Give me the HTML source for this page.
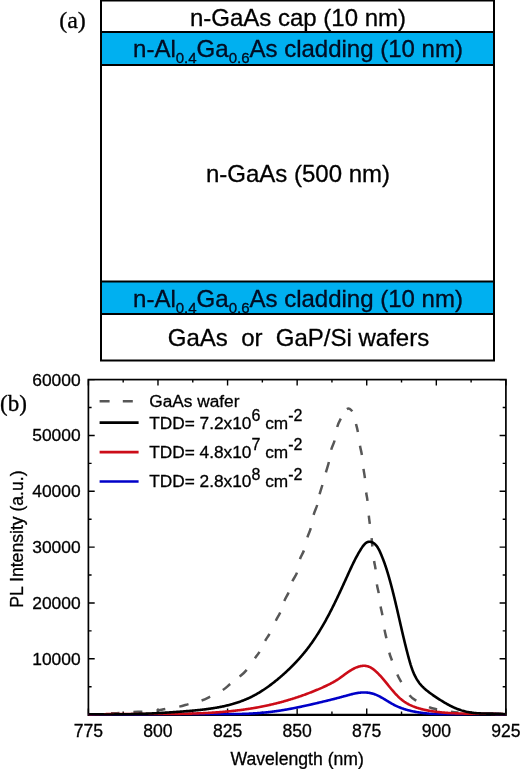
<!DOCTYPE html>
<html><head><meta charset="utf-8"><title>GaAs layer structure and PL spectra</title>
<style>html,body{margin:0;padding:0;background:#fff;}text{stroke:currentColor;stroke-width:0.3px;}body{width:520px;height:769px;overflow:hidden;}svg{display:block;}</style>
</head><body>
<svg width="520" height="769" viewBox="0 0 520 769">
<g id="stack">
<rect x="101" y="0" width="393" height="360" fill="#fff"/>
<rect x="101" y="32" width="393" height="33" fill="#00b0f0"/>
<rect x="101" y="281.6" width="393" height="32.5" fill="#00b0f0"/>
<g stroke="#000" stroke-width="2" fill="none">
<line x1="100" y1="32" x2="495" y2="32"/>
<line x1="100" y1="65" x2="495" y2="65"/>
<line x1="100" y1="281.6" x2="495" y2="281.6"/>
<line x1="100" y1="314.1" x2="495" y2="314.1"/>
<rect x="101" y="0.5" width="393" height="360"/>
</g>
<g font-family="Liberation Sans, Arial, Helvetica, sans-serif" font-size="24" fill="#000" text-anchor="middle">
<text x="298" y="25.8">n-GaAs cap (10 nm)</text>
<text x="298" y="57" fill="#020c28">n-Al<tspan font-size="15" dy="6.3">0.4</tspan><tspan dy="-6.3">Ga</tspan><tspan font-size="15" dy="6.3">0.6</tspan><tspan dy="-6.3">As cladding (10 nm)</tspan></text>
<text x="298" y="182">n-GaAs (500 nm)</text>
<text x="298" y="306.5" fill="#020c28">n-Al<tspan font-size="15" dy="6.3">0.4</tspan><tspan dy="-6.3">Ga</tspan><tspan font-size="15" dy="6.3">0.6</tspan><tspan dy="-6.3">As cladding (10 nm)</tspan></text>
<text x="298.5" y="345.6" xml:space="preserve">GaAs  or  GaP/Si wafers</text>
</g>
</g>
<text x="59.2" y="27.9" font-family="Liberation Serif, Times New Roman, serif" font-size="24">(a)</text>
<text x="0" y="410.6" font-family="Liberation Serif, Times New Roman, serif" font-size="23">(b)</text>
<path d="M88.40,714.60v-6.0M88.40,379.60v6.0M123.19,714.60v-3.0M123.19,379.60v3.0M157.98,714.60v-6.0M157.98,379.60v6.0M192.78,714.60v-3.0M192.78,379.60v3.0M227.57,714.60v-6.0M227.57,379.60v6.0M262.36,714.60v-3.0M262.36,379.60v3.0M297.15,714.60v-6.0M297.15,379.60v6.0M331.94,714.60v-3.0M331.94,379.60v3.0M366.73,714.60v-6.0M366.73,379.60v6.0M401.52,714.60v-3.0M401.52,379.60v3.0M436.32,714.60v-6.0M436.32,379.60v6.0M471.11,714.60v-3.0M471.11,379.60v3.0M505.90,714.60v-6.0M505.90,379.60v6.0M88.40,714.60h6.3M505.90,714.60h-6.3M88.40,686.68h3.2M505.90,686.68h-3.2M88.40,658.77h6.3M505.90,658.77h-6.3M88.40,630.85h3.2M505.90,630.85h-3.2M88.40,602.93h6.3M505.90,602.93h-6.3M88.40,575.02h3.2M505.90,575.02h-3.2M88.40,547.10h6.3M505.90,547.10h-6.3M88.40,519.18h3.2M505.90,519.18h-3.2M88.40,491.27h6.3M505.90,491.27h-6.3M88.40,463.35h3.2M505.90,463.35h-3.2M88.40,435.43h6.3M505.90,435.43h-6.3M88.40,407.52h3.2M505.90,407.52h-3.2M88.40,379.60h6.3M505.90,379.60h-6.3" stroke="#000" stroke-width="1.4" fill="none"/>
<rect x="88.4" y="379.6" width="417.5" height="335.0" fill="none" stroke="#000" stroke-width="1.7"/>
<path d="M87.6,715.3H506.7" stroke="#000" stroke-width="1.2"/>
<defs><clipPath id="c"><rect x="88.4" y="379.6" width="417.5" height="336.0"/></clipPath></defs>
<g fill="none" stroke-linejoin="round" clip-path="url(#c)">
<path d="M111.00,713.30C112.42,713.27 115.77,713.32 119.50,713.10M133.40,712.00C137.22,711.77 138.55,711.93 142.40,711.70M156.50,710.60C160.32,710.13 161.50,709.57 165.30,708.90M179.30,706.60C183.17,705.80 184.78,705.12 188.50,704.10M201.60,700.50C205.20,699.27 206.57,698.45 210.10,696.70M222.80,690.00C226.15,687.88 227.38,686.23 230.20,684.00M239.70,676.60C242.45,674.25 244.17,672.97 246.70,669.90M254.90,658.20C257.03,655.18 257.80,654.70 259.50,651.80M265.10,640.80C266.77,637.80 267.72,637.15 269.50,633.80M275.80,620.70C277.58,617.15 278.78,615.80 280.20,612.50M284.30,600.90C285.70,597.55 287.25,595.68 288.60,592.40M292.40,581.20C293.80,577.92 295.73,576.37 297.00,572.70M300.00,559.20C301.15,555.50 302.67,554.15 303.90,550.50M307.40,537.30C308.55,533.57 309.77,531.83 310.80,528.10M313.60,514.90C314.67,511.05 316.20,508.43 317.20,505.00M319.60,494.30C320.47,490.97 321.35,488.65 322.40,485.00M325.90,472.40C326.98,468.57 328.02,465.78 328.90,462.00M331.20,449.70C332.15,446.12 333.60,444.28 334.60,440.50M337.20,427.00C338.23,423.35 339.18,421.58 340.80,418.60M346.90,409.10C348.80,407.90 350.68,408.92 352.20,411.40M356.00,424.00C356.95,427.42 357.23,428.27 357.90,431.90M360.00,445.80C360.67,449.65 361.32,451.15 361.90,455.00M363.50,468.90C364.00,472.75 364.45,474.17 364.90,478.10M366.20,492.50C366.63,496.28 367.07,496.95 367.50,500.80M368.80,515.60C369.18,519.43 369.33,520.05 369.80,523.80M371.60,538.10C372.03,541.88 371.98,542.68 372.40,546.50M374.10,561.00C374.63,564.82 375.13,565.50 375.60,569.40M376.90,584.40C377.42,588.35 378.08,589.42 378.70,593.10M380.60,606.50C381.22,610.18 381.75,611.35 382.40,615.20M384.50,629.60C385.17,633.45 385.60,634.47 386.40,638.30M389.30,652.60C390.23,656.30 390.67,656.83 392.00,660.50M397.30,674.60C398.85,678.20 399.27,678.67 401.30,682.10M409.50,695.20C412.00,698.28 413.05,698.62 416.30,700.60M429.00,707.10C432.47,708.57 433.43,708.63 437.10,709.40M451.00,711.70C454.57,712.22 454.83,712.22 458.50,712.50M473.00,713.40C476.75,713.60 477.33,713.60 481.00,713.70M495.00,714.00C498.67,714.07 501.67,714.08 503.00,714.10" stroke="#575757" stroke-width="2.5"/>
<path d="M88.29,714.55 L88.90,714.56 L89.51,714.57 L90.12,714.58 L90.73,714.59 L91.33,714.60 L91.94,714.61 L92.55,714.62 L93.16,714.63 L93.76,714.64 L94.37,714.65 L94.98,714.65 L95.59,714.66 L96.20,714.67 L96.80,714.68 L97.41,714.68 L98.02,714.69 L98.63,714.69 L99.23,714.70 L99.84,714.71 L100.45,714.71 L101.06,714.72 L101.66,714.72 L102.27,714.73 L102.88,714.73 L103.48,714.73 L104.09,714.74 L104.70,714.74 L105.31,714.74 L105.91,714.75 L106.52,714.75 L107.13,714.75 L107.74,714.75 L108.34,714.76 L108.95,714.76 L109.56,714.76 L110.16,714.76 L110.77,714.76 L111.38,714.76 L111.98,714.76 L112.59,714.76 L113.20,714.76 L113.80,714.76 L114.41,714.76 L115.02,714.76 L115.63,714.76 L116.23,714.76 L116.84,714.76 L117.45,714.76 L118.05,714.76 L118.66,714.75 L119.27,714.75 L119.87,714.75 L120.48,714.75 L121.09,714.75 L121.69,714.74 L122.30,714.74 L122.91,714.74 L123.51,714.73 L124.12,714.73 L124.73,714.73 L125.33,714.72 L125.94,714.72 L126.54,714.72 L127.15,714.71 L127.76,714.71 L128.36,714.70 L128.97,714.70 L129.58,714.70 L130.18,714.69 L130.79,714.69 L131.40,714.68 L132.00,714.68 L132.61,714.67 L133.22,714.67 L133.82,714.66 L134.43,714.65 L135.03,714.65 L135.64,714.64 L136.25,714.64 L136.85,714.63 L137.46,714.63 L138.07,714.62 L138.67,714.61 L139.28,714.61 L139.89,714.60 L140.49,714.59 L141.10,714.59 L141.70,714.58 L142.31,714.57 L142.92,714.57 L143.52,714.56 L144.13,714.55 L144.74,714.55 L145.34,714.54 L145.95,714.53 L146.55,714.53 L147.16,714.52 L147.77,714.51 L148.37,714.51 L148.98,714.50 L149.59,714.49 L150.19,714.48 L150.80,714.48 L151.40,714.47 L152.01,714.46 L152.62,714.46 L153.22,714.45 L153.83,714.44 L154.44,714.43 L155.04,714.43 L155.65,714.42 L156.26,714.41 L156.86,714.40 L157.47,714.40 L158.07,714.39 L158.68,714.38 L159.29,714.38 L159.89,714.37 L160.50,714.36 L161.11,714.35 L161.71,714.35 L162.32,714.34 L162.92,714.33 L163.53,714.33 L164.14,714.32 L164.74,714.31 L165.35,714.30 L165.96,714.30 L166.56,714.29 L167.17,714.28 L167.78,714.28 L168.38,714.27 L168.99,714.26 L169.60,714.26 L170.20,714.25 L170.81,714.25 L171.41,714.24 L172.02,714.23 L172.63,714.23 L173.23,714.22 L173.84,714.22 L174.45,714.21 L175.05,714.20 L175.66,714.20 L176.27,714.19 L176.87,714.19 L177.48,714.18 L178.09,714.18 L178.69,714.17 L179.30,714.17 L179.91,714.16 L180.51,714.16 L181.12,714.15 L181.73,714.15 L182.33,714.15 L182.94,714.14 L183.55,714.14 L184.16,714.14 L184.76,714.13 L185.37,714.13 L185.98,714.12 L186.58,714.12 L187.19,714.12 L187.80,714.12 L188.40,714.11 L189.01,714.11 L189.62,714.11 L190.23,714.11 L190.83,714.10 L191.44,714.10 L192.05,714.10 L192.65,714.10 L193.26,714.10 L193.87,714.10 L194.48,714.10 L195.08,714.10 L195.69,714.10 L196.30,714.10 L196.90,714.10 L197.51,714.10 L198.12,714.10 L198.73,714.10 L199.33,714.10 L199.94,714.10 L200.55,714.10 L201.16,714.10 L201.76,714.11 L202.37,714.11 L202.98,714.11 L203.59,714.11 L204.20,714.12 L204.80,714.12 L205.41,714.12 L206.02,714.12 L206.63,714.13 L207.23,714.13 L207.84,714.13 L208.45,714.14 L209.06,714.14 L209.67,714.14 L210.27,714.15 L210.88,714.15 L211.49,714.15 L212.10,714.15 L212.70,714.16 L213.31,714.16 L213.92,714.16 L214.53,714.17 L215.14,714.17 L215.74,714.17 L216.35,714.17 L216.96,714.18 L217.57,714.18 L218.18,714.18 L218.78,714.18 L219.39,714.18 L220.00,714.18 L220.61,714.18 L221.21,714.18 L221.82,714.18 L222.43,714.18 L223.04,714.18 L223.65,714.18 L224.25,714.18 L224.86,714.18 L225.47,714.18 L226.08,714.18 L226.68,714.17 L227.29,714.17 L227.90,714.17 L228.51,714.16 L229.11,714.16 L229.72,714.15 L230.33,714.15 L230.94,714.14 L231.54,714.14 L232.15,714.13 L232.76,714.12 L233.36,714.11 L233.97,714.10 L234.58,714.10 L235.19,714.09 L235.79,714.07 L236.40,714.06 L237.01,714.05 L237.61,714.04 L238.22,714.03 L238.83,714.01 L239.43,714.00 L240.04,713.98 L240.65,713.97 L241.25,713.95 L241.86,713.93 L242.47,713.91 L243.07,713.89 L243.68,713.87 L244.28,713.85 L244.89,713.83 L245.50,713.81 L246.10,713.78 L246.71,713.76 L247.31,713.73 L247.92,713.71 L248.52,713.68 L249.13,713.65 L249.74,713.62 L250.34,713.59 L250.95,713.56 L251.55,713.53 L252.16,713.49 L252.76,713.46 L253.37,713.42 L253.97,713.39 L254.58,713.35 L255.18,713.31 L255.79,713.27 L256.39,713.23 L256.99,713.19 L257.60,713.14 L258.20,713.10 L258.81,713.05 L259.41,713.01 L260.02,712.96 L260.62,712.91 L261.22,712.86 L261.83,712.81 L262.43,712.75 L263.03,712.70 L263.64,712.64 L264.24,712.58 L264.84,712.53 L265.45,712.47 L266.05,712.40 L266.65,712.34 L267.25,712.28 L267.86,712.21 L268.46,712.14 L269.06,712.08 L269.66,712.01 L270.26,711.93 L270.87,711.86 L271.47,711.79 L272.07,711.71 L272.67,711.63 L273.27,711.56 L273.87,711.48 L274.47,711.40 L275.08,711.31 L275.68,711.23 L276.28,711.14 L276.88,711.06 L277.48,710.97 L278.08,710.88 L278.68,710.79 L279.28,710.70 L279.88,710.61 L280.48,710.51 L281.08,710.42 L281.68,710.32 L282.28,710.23 L282.87,710.13 L283.47,710.03 L284.07,709.93 L284.67,709.83 L285.27,709.73 L285.87,709.62 L286.47,709.52 L287.06,709.41 L287.66,709.31 L288.26,709.20 L288.86,709.09 L289.45,708.98 L290.05,708.87 L290.65,708.76 L291.25,708.65 L291.84,708.53 L292.44,708.42 L293.04,708.30 L293.63,708.19 L294.23,708.07 L294.82,707.95 L295.42,707.83 L296.02,707.72 L296.61,707.60 L297.21,707.47 L297.80,707.35 L298.40,707.23 L298.99,707.11 L299.59,706.98 L300.18,706.86 L300.77,706.73 L301.37,706.61 L301.96,706.48 L302.56,706.35 L303.15,706.23 L303.74,706.10 L304.34,705.97 L304.93,705.84 L305.52,705.71 L306.11,705.58 L306.71,705.45 L307.30,705.32 L307.89,705.18 L308.48,705.05 L309.07,704.92 L309.67,704.78 L310.26,704.65 L310.85,704.52 L311.44,704.38 L312.03,704.24 L312.62,704.11 L313.21,703.97 L313.80,703.84 L314.39,703.70 L314.98,703.56 L315.57,703.42 L316.16,703.29 L316.75,703.15 L317.34,703.01 L317.93,702.87 L318.52,702.73 L319.10,702.59 L319.69,702.45 L320.28,702.31 L320.87,702.17 L321.46,702.03 L322.04,701.89 L322.63,701.75 L323.22,701.61 L323.80,701.47 L324.39,701.33 L324.98,701.19 L325.56,701.05 L326.15,700.90 L326.74,700.76 L327.32,700.62 L327.91,700.48 L328.49,700.33 L329.08,700.19 L329.67,700.04 L330.25,699.90 L330.84,699.75 L331.42,699.61 L332.01,699.46 L332.59,699.31 L333.18,699.17 L333.77,699.02 L334.35,698.87 L334.94,698.72 L335.53,698.57 L336.11,698.41 L336.70,698.26 L337.29,698.11 L337.87,697.95 L338.46,697.80 L339.05,697.64 L339.64,697.49 L340.22,697.33 L340.81,697.17 L341.40,697.01 L341.99,696.85 L342.58,696.69 L343.17,696.53 L343.76,696.37 L344.36,696.20 L344.95,696.04 L345.54,695.88 L346.13,695.71 L346.73,695.55 L347.32,695.39 L347.92,695.22 L348.51,695.06 L349.11,694.90 L349.71,694.74 L350.31,694.58 L350.90,694.43 L351.50,694.28 L352.10,694.13 L352.70,693.98 L353.30,693.84 L353.90,693.71 L354.50,693.57 L355.10,693.45 L355.70,693.33 L356.30,693.21 L356.90,693.10 L357.50,693.00 L358.10,692.91 L358.69,692.82 L359.29,692.74 L359.89,692.67 L360.49,692.61 L361.09,692.55 L361.69,692.51 L362.29,692.47 L362.88,692.45 L363.48,692.44 L364.07,692.43 L364.67,692.44 L365.26,692.46 L365.86,692.49 L366.45,692.53 L367.04,692.58 L367.63,692.64 L368.22,692.71 L368.80,692.79 L369.39,692.89 L369.97,692.99 L370.55,693.11 L371.13,693.23 L371.70,693.37 L372.28,693.52 L372.85,693.68 L373.42,693.85 L373.98,694.04 L374.54,694.23 L375.10,694.43 L375.66,694.65 L376.22,694.88 L376.77,695.11 L377.32,695.36 L377.86,695.61 L378.41,695.87 L378.95,696.14 L379.49,696.41 L380.03,696.70 L380.57,696.99 L381.11,697.28 L381.64,697.58 L382.18,697.88 L382.71,698.19 L383.24,698.50 L383.77,698.82 L384.30,699.13 L384.83,699.45 L385.36,699.78 L385.89,700.10 L386.42,700.42 L386.94,700.74 L387.47,701.07 L388.00,701.39 L388.53,701.71 L389.06,702.03 L389.59,702.34 L390.12,702.66 L390.65,702.97 L391.18,703.27 L391.71,703.58 L392.24,703.88 L392.78,704.17 L393.32,704.47 L393.86,704.75 L394.40,705.03 L394.94,705.31 L395.48,705.58 L396.03,705.84 L396.58,706.10 L397.13,706.35 L397.69,706.59 L398.24,706.83 L398.80,707.07 L399.36,707.30 L399.92,707.52 L400.48,707.74 L401.05,707.96 L401.61,708.17 L402.18,708.37 L402.75,708.57 L403.32,708.76 L403.89,708.95 L404.47,709.14 L405.04,709.32 L405.62,709.49 L406.20,709.67 L406.78,709.83 L407.36,710.00 L407.94,710.15 L408.52,710.31 L409.11,710.46 L409.69,710.61 L410.28,710.75 L410.87,710.89 L411.46,711.02 L412.05,711.15 L412.64,711.28 L413.23,711.40 L413.82,711.53 L414.41,711.64 L415.01,711.76 L415.60,711.87 L416.20,711.97 L416.80,712.08 L417.39,712.18 L417.99,712.28 L418.59,712.38 L419.19,712.47 L419.78,712.56 L420.38,712.65 L420.98,712.73 L421.58,712.81 L422.18,712.89 L422.78,712.97 L423.38,713.05 L423.98,713.12 L424.59,713.19 L425.19,713.26 L425.79,713.33 L426.39,713.39 L426.99,713.45 L427.59,713.52 L428.20,713.57 L428.80,713.63 L429.40,713.68 L430.01,713.74 L430.61,713.79 L431.21,713.83 L431.82,713.88 L432.42,713.92 L433.03,713.97 L433.63,714.01 L434.24,714.05 L434.84,714.08 L435.45,714.12 L436.05,714.15 L436.66,714.19 L437.26,714.22 L437.87,714.24 L438.48,714.27 L439.08,714.30 L439.69,714.32 L440.29,714.34 L440.90,714.37 L441.51,714.39 L442.12,714.40 L442.72,714.42 L443.33,714.44 L443.94,714.45 L444.55,714.46 L445.15,714.48 L445.76,714.49 L446.37,714.50 L446.98,714.50 L447.59,714.51 L448.19,714.52 L448.80,714.52 L449.41,714.53 L450.02,714.53 L450.63,714.53 L451.24,714.53 L451.85,714.53 L452.46,714.53 L453.06,714.53 L453.67,714.53 L454.28,714.53 L454.89,714.52 L455.50,714.52 L456.11,714.51 L456.72,714.51 L457.33,714.50 L457.94,714.49 L458.55,714.48 L459.16,714.48 L459.77,714.47 L460.38,714.46 L460.99,714.45 L461.60,714.44 L462.21,714.43 L462.82,714.41 L463.43,714.40 L464.04,714.39 L464.65,714.38 L465.26,714.37 L465.87,714.35 L466.48,714.34 L467.09,714.33 L467.70,714.31 L468.30,714.30 L468.91,714.29 L469.52,714.28 L470.13,714.26 L470.74,714.25 L471.35,714.23 L471.96,714.22 L472.57,714.21 L473.18,714.20 L473.79,714.18 L474.40,714.17 L475.01,714.16 L475.62,714.15 L476.23,714.13 L476.84,714.12 L477.44,714.11 L478.05,714.10 L478.66,714.09 L479.27,714.08 L479.88,714.07 L480.49,714.06 L481.10,714.05 L481.70,714.04 L482.31,714.04 L482.92,714.03 L483.53,714.02 L484.14,714.02 L484.74,714.01 L485.35,714.01 L485.96,714.01 L486.57,714.00 L487.17,714.00 L487.78,714.00 L488.39,714.00 L488.99,714.00 L489.60,714.00 L490.20,714.01 L490.81,714.01 L491.42,714.02 L492.02,714.02 L492.63,714.03 L493.23,714.04 L493.84,714.05 L494.44,714.06 L495.05,714.07 L495.65,714.08 L496.26,714.10 L496.86,714.11 L497.46,714.13 L498.07,714.15 L498.67,714.17 L499.27,714.19 L499.88,714.21 L500.48,714.23 L501.08,714.26 L501.69,714.29 L502.29,714.32 L502.89,714.35 L503.49,714.38 L504.09,714.41 L504.69,714.45 L505.29,714.48 L505.89,714.52" stroke="#0000c8" stroke-width="2.6"/>
<path d="M88.34,714.70 L88.97,714.68 L89.60,714.65 L90.23,714.62 L90.86,714.60 L91.49,714.58 L92.13,714.55 L92.76,714.53 L93.39,714.51 L94.02,714.49 L94.65,714.46 L95.28,714.44 L95.91,714.42 L96.54,714.40 L97.18,714.38 L97.81,714.37 L98.44,714.35 L99.07,714.33 L99.70,714.31 L100.34,714.30 L100.97,714.28 L101.60,714.27 L102.23,714.25 L102.87,714.24 L103.50,714.22 L104.13,714.21 L104.76,714.20 L105.40,714.18 L106.03,714.17 L106.66,714.16 L107.30,714.15 L107.93,714.14 L108.56,714.13 L109.20,714.12 L109.83,714.11 L110.46,714.10 L111.10,714.09 L111.73,714.08 L112.36,714.07 L113.00,714.07 L113.63,714.06 L114.27,714.05 L114.90,714.05 L115.54,714.04 L116.17,714.03 L116.80,714.03 L117.44,714.02 L118.07,714.02 L118.71,714.01 L119.34,714.01 L119.98,714.00 L120.61,714.00 L121.25,714.00 L121.88,713.99 L122.52,713.99 L123.15,713.99 L123.79,713.98 L124.42,713.98 L125.06,713.98 L125.69,713.98 L126.33,713.98 L126.96,713.97 L127.60,713.97 L128.24,713.97 L128.87,713.97 L129.51,713.97 L130.14,713.97 L130.78,713.97 L131.41,713.97 L132.05,713.97 L132.69,713.97 L133.32,713.97 L133.96,713.97 L134.59,713.97 L135.23,713.97 L135.87,713.97 L136.50,713.97 L137.14,713.97 L137.77,713.97 L138.41,713.97 L139.05,713.97 L139.68,713.98 L140.32,713.98 L140.96,713.98 L141.59,713.98 L142.23,713.98 L142.87,713.98 L143.50,713.98 L144.14,713.98 L144.78,713.98 L145.41,713.99 L146.05,713.99 L146.69,713.99 L147.32,713.99 L147.96,713.99 L148.60,713.99 L149.23,713.99 L149.87,713.99 L150.51,714.00 L151.14,714.00 L151.78,714.00 L152.42,714.00 L153.05,714.00 L153.69,714.00 L154.33,714.00 L154.96,714.00 L155.60,714.00 L156.24,714.00 L156.87,714.00 L157.51,714.00 L158.15,714.00 L158.79,714.00 L159.42,714.00 L160.06,714.00 L160.70,714.00 L161.33,714.00 L161.97,713.99 L162.61,713.99 L163.24,713.99 L163.88,713.99 L164.52,713.99 L165.15,713.98 L165.79,713.98 L166.43,713.98 L167.06,713.98 L167.70,713.97 L168.34,713.97 L168.98,713.96 L169.61,713.96 L170.25,713.96 L170.89,713.95 L171.52,713.95 L172.16,713.94 L172.80,713.94 L173.43,713.93 L174.07,713.92 L174.71,713.92 L175.34,713.91 L175.98,713.90 L176.61,713.89 L177.25,713.89 L177.89,713.88 L178.52,713.87 L179.16,713.86 L179.80,713.85 L180.43,713.84 L181.07,713.83 L181.71,713.82 L182.34,713.81 L182.98,713.80 L183.61,713.78 L184.25,713.77 L184.89,713.76 L185.52,713.75 L186.16,713.73 L186.79,713.72 L187.43,713.70 L188.07,713.69 L188.70,713.67 L189.34,713.65 L189.97,713.64 L190.61,713.62 L191.24,713.60 L191.88,713.58 L192.52,713.57 L193.15,713.55 L193.79,713.53 L194.42,713.51 L195.06,713.48 L195.69,713.46 L196.33,713.44 L196.96,713.42 L197.60,713.39 L198.23,713.37 L198.87,713.35 L199.50,713.32 L200.14,713.29 L200.77,713.27 L201.40,713.24 L202.04,713.21 L202.67,713.18 L203.31,713.15 L203.94,713.13 L204.58,713.09 L205.21,713.06 L205.84,713.03 L206.48,713.00 L207.11,712.97 L207.75,712.93 L208.38,712.90 L209.01,712.86 L209.65,712.83 L210.28,712.79 L210.91,712.75 L211.55,712.71 L212.18,712.67 L212.81,712.63 L213.45,712.59 L214.08,712.55 L214.71,712.51 L215.34,712.47 L215.98,712.42 L216.61,712.38 L217.24,712.33 L217.87,712.29 L218.51,712.24 L219.14,712.19 L219.77,712.14 L220.40,712.09 L221.03,712.04 L221.67,711.99 L222.30,711.94 L222.93,711.89 L223.56,711.83 L224.19,711.78 L224.82,711.72 L225.45,711.67 L226.08,711.61 L226.72,711.55 L227.35,711.49 L227.98,711.43 L228.61,711.37 L229.24,711.31 L229.87,711.24 L230.50,711.18 L231.13,711.11 L231.76,711.05 L232.39,710.98 L233.02,710.91 L233.65,710.84 L234.28,710.77 L234.90,710.70 L235.53,710.63 L236.16,710.56 L236.79,710.48 L237.42,710.41 L238.05,710.33 L238.68,710.26 L239.30,710.18 L239.93,710.10 L240.56,710.02 L241.19,709.94 L241.82,709.85 L242.44,709.77 L243.07,709.68 L243.70,709.60 L244.33,709.51 L244.95,709.42 L245.58,709.33 L246.21,709.24 L246.83,709.15 L247.46,709.06 L248.09,708.96 L248.71,708.87 L249.34,708.77 L249.96,708.67 L250.59,708.57 L251.21,708.47 L251.84,708.37 L252.46,708.27 L253.09,708.17 L253.71,708.06 L254.34,707.96 L254.96,707.85 L255.59,707.74 L256.21,707.63 L256.84,707.52 L257.46,707.41 L258.08,707.29 L258.71,707.18 L259.33,707.06 L259.95,706.94 L260.58,706.83 L261.20,706.71 L261.82,706.58 L262.44,706.46 L263.07,706.34 L263.69,706.21 L264.31,706.08 L264.93,705.96 L265.55,705.83 L266.17,705.69 L266.80,705.56 L267.42,705.43 L268.04,705.29 L268.66,705.16 L269.28,705.02 L269.90,704.88 L270.52,704.74 L271.14,704.60 L271.76,704.45 L272.38,704.31 L273.00,704.16 L273.61,704.01 L274.23,703.86 L274.85,703.71 L275.47,703.56 L276.09,703.41 L276.71,703.25 L277.32,703.10 L277.94,702.94 L278.56,702.78 L279.17,702.62 L279.79,702.46 L280.40,702.30 L281.02,702.13 L281.63,701.97 L282.25,701.80 L282.86,701.63 L283.48,701.46 L284.09,701.29 L284.70,701.12 L285.32,700.94 L285.93,700.77 L286.54,700.59 L287.15,700.41 L287.77,700.23 L288.38,700.05 L288.99,699.87 L289.60,699.69 L290.21,699.50 L290.82,699.32 L291.42,699.13 L292.03,698.94 L292.64,698.75 L293.25,698.56 L293.85,698.37 L294.46,698.17 L295.07,697.98 L295.67,697.78 L296.28,697.58 L296.88,697.38 L297.49,697.18 L298.09,696.98 L298.69,696.77 L299.29,696.57 L299.90,696.36 L300.50,696.16 L301.10,695.95 L301.70,695.74 L302.30,695.53 L302.90,695.31 L303.49,695.10 L304.09,694.88 L304.69,694.67 L305.29,694.45 L305.88,694.23 L306.48,694.01 L307.07,693.79 L307.67,693.57 L308.26,693.34 L308.85,693.12 L309.44,692.89 L310.03,692.66 L310.63,692.43 L311.22,692.20 L311.80,691.97 L312.39,691.73 L312.98,691.50 L313.57,691.26 L314.16,691.03 L314.74,690.79 L315.33,690.55 L315.91,690.31 L316.49,690.07 L317.08,689.82 L317.66,689.58 L318.24,689.33 L318.82,689.08 L319.40,688.83 L319.98,688.58 L320.56,688.33 L321.13,688.08 L321.71,687.83 L322.29,687.57 L322.86,687.32 L323.44,687.06 L324.01,686.80 L324.58,686.54 L325.15,686.28 L325.72,686.01 L326.29,685.75 L326.86,685.48 L327.43,685.20 L327.99,684.93 L328.56,684.65 L329.12,684.37 L329.68,684.09 L330.24,683.80 L330.80,683.51 L331.36,683.22 L331.91,682.92 L332.47,682.62 L333.02,682.31 L333.57,682.00 L334.12,681.68 L334.67,681.36 L335.22,681.04 L335.76,680.71 L336.30,680.37 L336.85,680.03 L337.38,679.69 L337.92,679.33 L338.46,678.98 L338.99,678.61 L339.52,678.25 L340.05,677.87 L340.58,677.50 L341.11,677.12 L341.64,676.73 L342.16,676.35 L342.69,675.96 L343.22,675.58 L343.74,675.19 L344.27,674.80 L344.80,674.41 L345.33,674.03 L345.86,673.64 L346.39,673.26 L346.93,672.88 L347.46,672.51 L348.00,672.14 L348.54,671.77 L349.08,671.41 L349.63,671.05 L350.18,670.70 L350.73,670.36 L351.29,670.02 L351.85,669.69 L352.41,669.37 L352.98,669.06 L353.55,668.76 L354.12,668.46 L354.71,668.18 L355.29,667.91 L355.88,667.65 L356.48,667.41 L357.08,667.18 L357.67,666.96 L358.28,666.76 L358.88,666.57 L359.48,666.40 L360.09,666.25 L360.69,666.12 L361.30,666.01 L361.90,665.92 L362.50,665.85 L363.09,665.80 L363.69,665.77 L364.28,665.77 L364.86,665.80 L365.44,665.85 L366.02,665.92 L366.59,666.02 L367.15,666.15 L367.71,666.31 L368.26,666.49 L368.81,666.69 L369.35,666.92 L369.88,667.16 L370.41,667.43 L370.94,667.72 L371.45,668.02 L371.97,668.35 L372.47,668.69 L372.98,669.04 L373.47,669.41 L373.97,669.79 L374.46,670.18 L374.94,670.59 L375.42,671.00 L375.89,671.42 L376.36,671.85 L376.83,672.29 L377.29,672.73 L377.75,673.18 L378.21,673.63 L378.66,674.09 L379.11,674.55 L379.55,675.02 L379.99,675.49 L380.43,675.97 L380.86,676.44 L381.30,676.93 L381.73,677.41 L382.15,677.90 L382.58,678.39 L383.00,678.88 L383.42,679.38 L383.84,679.88 L384.26,680.38 L384.68,680.88 L385.09,681.38 L385.51,681.89 L385.92,682.39 L386.33,682.90 L386.74,683.41 L387.15,683.92 L387.56,684.42 L387.97,684.93 L388.38,685.44 L388.79,685.95 L389.20,686.46 L389.61,686.96 L390.02,687.47 L390.44,687.97 L390.85,688.47 L391.26,688.97 L391.68,689.47 L392.09,689.97 L392.51,690.46 L392.93,690.95 L393.35,691.44 L393.77,691.92 L394.20,692.41 L394.62,692.89 L395.05,693.36 L395.49,693.83 L395.92,694.30 L396.36,694.76 L396.80,695.22 L397.24,695.67 L397.69,696.12 L398.14,696.56 L398.59,697.00 L399.05,697.43 L399.51,697.86 L399.98,698.27 L400.45,698.69 L400.92,699.09 L401.40,699.49 L401.88,699.89 L402.37,700.27 L402.86,700.65 L403.36,701.02 L403.87,701.38 L404.37,701.74 L404.89,702.08 L405.41,702.42 L405.93,702.75 L406.46,703.08 L407.00,703.39 L407.54,703.70 L408.08,704.00 L408.63,704.29 L409.19,704.58 L409.74,704.86 L410.31,705.13 L410.87,705.39 L411.44,705.65 L412.02,705.90 L412.59,706.15 L413.18,706.39 L413.76,706.62 L414.35,706.84 L414.94,707.07 L415.54,707.28 L416.14,707.49 L416.74,707.69 L417.34,707.89 L417.95,708.08 L418.56,708.27 L419.17,708.45 L419.78,708.62 L420.40,708.79 L421.02,708.96 L421.64,709.12 L422.26,709.28 L422.88,709.43 L423.51,709.58 L424.14,709.72 L424.77,709.86 L425.40,710.00 L426.03,710.13 L426.66,710.26 L427.29,710.38 L427.93,710.50 L428.56,710.62 L429.20,710.73 L429.83,710.84 L430.47,710.95 L431.11,711.05 L431.74,711.15 L432.38,711.25 L433.02,711.34 L433.65,711.44 L434.29,711.53 L434.93,711.61 L435.56,711.70 L436.20,711.78 L436.83,711.86 L437.47,711.94 L438.10,712.02 L438.74,712.09 L439.37,712.16 L440.01,712.23 L440.64,712.30 L441.27,712.36 L441.91,712.43 L442.54,712.49 L443.17,712.55 L443.81,712.60 L444.44,712.66 L445.07,712.71 L445.70,712.76 L446.34,712.81 L446.97,712.86 L447.60,712.90 L448.23,712.95 L448.86,712.99 L449.50,713.03 L450.13,713.07 L450.76,713.11 L451.39,713.14 L452.02,713.18 L452.65,713.21 L453.28,713.24 L453.92,713.27 L454.55,713.30 L455.18,713.33 L455.81,713.35 L456.44,713.38 L457.07,713.40 L457.70,713.42 L458.33,713.44 L458.96,713.46 L459.59,713.48 L460.22,713.50 L460.85,713.52 L461.48,713.53 L462.11,713.55 L462.75,713.56 L463.38,713.57 L464.01,713.59 L464.64,713.60 L465.27,713.61 L465.90,713.62 L466.53,713.63 L467.16,713.64 L467.79,713.64 L468.42,713.65 L469.05,713.66 L469.68,713.66 L470.31,713.67 L470.94,713.68 L471.58,713.68 L472.21,713.69 L472.84,713.69 L473.47,713.69 L474.10,713.70 L474.73,713.70 L475.36,713.70 L476.00,713.71 L476.63,713.71 L477.26,713.71 L477.89,713.72 L478.52,713.72 L479.16,713.72 L479.79,713.72 L480.42,713.73 L481.05,713.73 L481.69,713.73 L482.32,713.74 L482.95,713.74 L483.59,713.75 L484.22,713.75 L484.85,713.75 L485.49,713.76 L486.12,713.77 L486.76,713.77 L487.39,713.78 L488.03,713.78 L488.66,713.79 L489.30,713.80 L489.93,713.81 L490.57,713.82 L491.21,713.83 L491.84,713.84 L492.48,713.85 L493.12,713.86 L493.75,713.88 L494.39,713.89 L495.03,713.91 L495.67,713.92 L496.30,713.94 L496.94,713.96 L497.58,713.98 L498.22,714.00 L498.86,714.02 L499.50,714.04 L500.14,714.06 L500.78,714.09 L501.42,714.11 L502.06,714.14 L502.70,714.17 L503.35,714.20 L503.99,714.23 L504.63,714.27 L505.27,714.30 L505.92,714.34" stroke="#cc0c18" stroke-width="2.6"/>
<path d="M88.27,714.20 L89.15,714.22 L90.04,714.24 L90.92,714.26 L91.81,714.28 L92.69,714.29 L93.58,714.31 L94.46,714.32 L95.35,714.34 L96.23,714.35 L97.12,714.36 L98.00,714.37 L98.88,714.38 L99.76,714.39 L100.65,714.40 L101.53,714.41 L102.41,714.42 L103.29,714.42 L104.17,714.43 L105.05,714.43 L105.93,714.44 L106.81,714.44 L107.69,714.44 L108.57,714.44 L109.45,714.44 L110.33,714.44 L111.21,714.44 L112.08,714.43 L112.96,714.43 L113.84,714.43 L114.72,714.42 L115.59,714.41 L116.47,714.41 L117.35,714.40 L118.23,714.39 L119.10,714.38 L119.98,714.37 L120.85,714.36 L121.73,714.35 L122.61,714.33 L123.48,714.32 L124.36,714.30 L125.23,714.29 L126.11,714.27 L126.98,714.25 L127.86,714.24 L128.73,714.22 L129.61,714.20 L130.48,714.18 L131.36,714.15 L132.23,714.13 L133.10,714.11 L133.98,714.08 L134.85,714.06 L135.73,714.03 L136.60,714.01 L137.47,713.98 L138.35,713.95 L139.22,713.92 L140.10,713.89 L140.97,713.86 L141.84,713.83 L142.72,713.80 L143.59,713.76 L144.46,713.73 L145.34,713.70 L146.21,713.66 L147.08,713.62 L147.96,713.59 L148.83,713.55 L149.70,713.51 L150.58,713.47 L151.45,713.43 L152.33,713.39 L153.20,713.34 L154.07,713.30 L154.95,713.26 L155.82,713.21 L156.69,713.17 L157.57,713.12 L158.44,713.07 L159.32,713.03 L160.19,712.98 L161.06,712.93 L161.94,712.88 L162.81,712.83 L163.69,712.78 L164.56,712.72 L165.44,712.67 L166.31,712.62 L167.19,712.56 L168.06,712.51 L168.94,712.45 L169.82,712.39 L170.69,712.34 L171.57,712.28 L172.44,712.22 L173.32,712.16 L174.20,712.10 L175.07,712.03 L175.95,711.97 L176.83,711.91 L177.71,711.84 L178.58,711.78 L179.46,711.71 L180.34,711.65 L181.22,711.58 L182.10,711.51 L182.97,711.44 L183.85,711.38 L184.73,711.31 L185.61,711.23 L186.49,711.16 L187.37,711.09 L188.25,711.02 L189.13,710.94 L190.02,710.87 L190.90,710.79 L191.78,710.71 L192.66,710.63 L193.54,710.55 L194.42,710.47 L195.30,710.39 L196.18,710.30 L197.06,710.22 L197.94,710.13 L198.82,710.04 L199.70,709.95 L200.58,709.85 L201.46,709.75 L202.34,709.66 L203.22,709.55 L204.09,709.45 L204.97,709.34 L205.85,709.23 L206.72,709.12 L207.60,709.01 L208.47,708.89 L209.35,708.77 L210.22,708.65 L211.09,708.52 L211.96,708.39 L212.83,708.25 L213.70,708.12 L214.57,707.98 L215.44,707.83 L216.30,707.69 L217.17,707.53 L218.03,707.38 L218.90,707.22 L219.76,707.06 L220.62,706.89 L221.48,706.72 L222.33,706.54 L223.19,706.36 L224.04,706.17 L224.90,705.98 L225.75,705.79 L226.60,705.59 L227.45,705.39 L228.29,705.18 L229.14,704.96 L229.98,704.74 L230.82,704.52 L231.66,704.29 L232.50,704.06 L233.33,703.81 L234.17,703.57 L235.00,703.32 L235.83,703.06 L236.66,702.80 L237.48,702.53 L238.31,702.25 L239.13,701.97 L239.95,701.68 L240.76,701.39 L241.58,701.09 L242.39,700.78 L243.20,700.47 L244.01,700.15 L244.81,699.82 L245.62,699.49 L246.42,699.15 L247.21,698.80 L248.01,698.45 L248.80,698.09 L249.59,697.72 L250.37,697.34 L251.16,696.96 L251.94,696.57 L252.72,696.17 L253.49,695.77 L254.27,695.36 L255.04,694.94 L255.80,694.52 L256.57,694.09 L257.33,693.66 L258.09,693.22 L258.84,692.77 L259.60,692.32 L260.35,691.86 L261.10,691.39 L261.84,690.92 L262.58,690.45 L263.32,689.97 L264.06,689.48 L264.79,688.99 L265.53,688.49 L266.25,687.99 L266.98,687.49 L267.70,686.98 L268.42,686.46 L269.14,685.94 L269.86,685.42 L270.57,684.89 L271.28,684.36 L271.98,683.83 L272.69,683.29 L273.39,682.74 L274.08,682.20 L274.78,681.64 L275.47,681.09 L276.16,680.53 L276.85,679.97 L277.53,679.41 L278.21,678.84 L278.89,678.27 L279.57,677.70 L280.24,677.12 L280.91,676.55 L281.58,675.97 L282.24,675.38 L282.90,674.80 L283.56,674.21 L284.21,673.62 L284.87,673.03 L285.52,672.44 L286.16,671.84 L286.81,671.24 L287.45,670.64 L288.09,670.04 L288.72,669.44 L289.36,668.83 L289.98,668.22 L290.61,667.61 L291.23,667.00 L291.85,666.38 L292.47,665.76 L293.09,665.14 L293.70,664.52 L294.31,663.89 L294.91,663.26 L295.51,662.63 L296.11,662.00 L296.71,661.36 L297.30,660.72 L297.89,660.08 L298.48,659.44 L299.06,658.79 L299.64,658.14 L300.22,657.49 L300.79,656.84 L301.36,656.18 L301.93,655.52 L302.49,654.86 L303.05,654.19 L303.61,653.52 L304.16,652.85 L304.71,652.18 L305.26,651.50 L305.80,650.82 L306.34,650.14 L306.88,649.45 L307.41,648.76 L307.94,648.07 L308.47,647.37 L309.00,646.68 L309.52,645.98 L310.03,645.27 L310.55,644.57 L311.06,643.86 L311.57,643.15 L312.07,642.43 L312.57,641.72 L313.07,641.00 L313.57,640.28 L314.06,639.55 L314.55,638.83 L315.04,638.10 L315.52,637.37 L316.00,636.64 L316.48,635.90 L316.96,635.16 L317.43,634.42 L317.90,633.68 L318.37,632.94 L318.83,632.19 L319.30,631.44 L319.76,630.69 L320.21,629.94 L320.67,629.19 L321.12,628.43 L321.57,627.68 L322.02,626.92 L322.46,626.16 L322.90,625.39 L323.34,624.63 L323.78,623.86 L324.22,623.10 L324.65,622.33 L325.08,621.56 L325.51,620.79 L325.94,620.01 L326.36,619.24 L326.79,618.46 L327.21,617.69 L327.63,616.91 L328.04,616.13 L328.46,615.35 L328.87,614.57 L329.28,613.78 L329.69,613.00 L330.10,612.21 L330.51,611.43 L330.91,610.64 L331.31,609.85 L331.71,609.06 L332.11,608.28 L332.51,607.48 L332.90,606.69 L333.30,605.90 L333.69,605.11 L334.08,604.32 L334.47,603.52 L334.86,602.73 L335.25,601.93 L335.63,601.14 L336.02,600.34 L336.40,599.55 L336.78,598.75 L337.16,597.96 L337.54,597.16 L337.92,596.36 L338.30,595.56 L338.67,594.77 L339.05,593.97 L339.42,593.17 L339.79,592.37 L340.16,591.58 L340.53,590.78 L340.90,589.98 L341.27,589.19 L341.64,588.39 L342.01,587.59 L342.37,586.80 L342.74,586.00 L343.10,585.20 L343.47,584.41 L343.83,583.61 L344.19,582.82 L344.56,582.02 L344.92,581.23 L345.28,580.44 L345.64,579.64 L346.00,578.85 L346.36,578.06 L346.72,577.27 L347.08,576.48 L347.44,575.69 L347.79,574.90 L348.15,574.12 L348.51,573.33 L348.87,572.54 L349.22,571.76 L349.58,570.98 L349.94,570.19 L350.30,569.41 L350.66,568.63 L351.02,567.85 L351.39,567.07 L351.75,566.29 L352.12,565.50 L352.50,564.72 L352.87,563.94 L353.25,563.16 L353.64,562.38 L354.02,561.60 L354.42,560.81 L354.81,560.03 L355.22,559.25 L355.62,558.46 L356.04,557.68 L356.46,556.89 L356.88,556.10 L357.32,555.31 L357.76,554.52 L358.21,553.73 L358.66,552.94 L359.13,552.14 L359.60,551.35 L360.08,550.55 L360.58,549.75 L361.08,548.94 L361.59,548.15 L362.11,547.36 L362.64,546.59 L363.19,545.85 L363.75,545.15 L364.32,544.49 L364.91,543.88 L365.52,543.33 L366.14,542.84 L366.78,542.43 L367.44,542.10 L368.12,541.86 L368.82,541.72 L369.54,541.68 L370.27,541.75 L371.01,541.90 L371.75,542.14 L372.49,542.46 L373.20,542.85 L373.90,543.31 L374.56,543.82 L375.19,544.38 L375.79,544.99 L376.35,545.64 L376.88,546.33 L377.39,547.05 L377.88,547.81 L378.34,548.59 L378.78,549.39 L379.20,550.21 L379.61,551.05 L380.00,551.90 L380.38,552.75 L380.76,553.60 L381.12,554.46 L381.48,555.31 L381.83,556.16 L382.18,557.01 L382.51,557.86 L382.85,558.70 L383.17,559.55 L383.49,560.39 L383.81,561.23 L384.12,562.07 L384.42,562.91 L384.72,563.75 L385.01,564.59 L385.30,565.43 L385.58,566.26 L385.86,567.10 L386.14,567.93 L386.41,568.77 L386.68,569.60 L386.94,570.44 L387.20,571.27 L387.46,572.10 L387.71,572.94 L387.96,573.77 L388.21,574.60 L388.45,575.44 L388.70,576.27 L388.94,577.10 L389.17,577.94 L389.41,578.77 L389.64,579.61 L389.88,580.45 L390.11,581.28 L390.34,582.12 L390.56,582.96 L390.79,583.80 L391.01,584.64 L391.24,585.48 L391.46,586.32 L391.68,587.16 L391.90,588.00 L392.11,588.84 L392.33,589.69 L392.55,590.53 L392.76,591.37 L392.97,592.22 L393.18,593.06 L393.40,593.91 L393.60,594.75 L393.81,595.60 L394.02,596.45 L394.23,597.29 L394.43,598.14 L394.64,598.99 L394.84,599.84 L395.05,600.69 L395.25,601.53 L395.45,602.38 L395.65,603.23 L395.85,604.08 L396.05,604.94 L396.25,605.79 L396.45,606.64 L396.65,607.49 L396.84,608.34 L397.04,609.19 L397.24,610.05 L397.44,610.90 L397.63,611.75 L397.83,612.61 L398.02,613.46 L398.22,614.32 L398.41,615.17 L398.61,616.03 L398.80,616.88 L399.00,617.74 L399.19,618.59 L399.39,619.45 L399.58,620.30 L399.78,621.16 L399.97,622.02 L400.17,622.87 L400.36,623.73 L400.56,624.59 L400.75,625.44 L400.95,626.30 L401.15,627.16 L401.34,628.02 L401.54,628.87 L401.74,629.73 L401.94,630.59 L402.13,631.45 L402.33,632.30 L402.53,633.16 L402.73,634.02 L402.93,634.88 L403.14,635.74 L403.34,636.60 L403.54,637.45 L403.74,638.31 L403.95,639.17 L404.15,640.03 L404.36,640.89 L404.57,641.75 L404.78,642.60 L404.99,643.46 L405.20,644.32 L405.41,645.18 L405.62,646.04 L405.83,646.89 L406.05,647.75 L406.26,648.61 L406.48,649.47 L406.70,650.33 L406.92,651.18 L407.14,652.04 L407.36,652.90 L407.59,653.75 L407.81,654.61 L408.04,655.47 L408.27,656.33 L408.50,657.18 L408.73,658.04 L408.96,658.89 L409.20,659.75 L409.44,660.60 L409.68,661.46 L409.92,662.31 L410.17,663.16 L410.43,664.00 L410.68,664.85 L410.95,665.69 L411.22,666.53 L411.50,667.36 L411.78,668.19 L412.07,669.02 L412.37,669.84 L412.68,670.66 L413.00,671.47 L413.32,672.27 L413.66,673.07 L414.00,673.87 L414.36,674.65 L414.73,675.43 L415.11,676.20 L415.50,676.97 L415.91,677.72 L416.32,678.47 L416.75,679.21 L417.20,679.94 L417.66,680.66 L418.13,681.37 L418.62,682.07 L419.13,682.77 L419.65,683.45 L420.19,684.11 L420.75,684.77 L421.32,685.42 L421.91,686.05 L422.52,686.68 L423.14,687.29 L423.77,687.90 L424.42,688.50 L425.08,689.08 L425.75,689.66 L426.43,690.23 L427.12,690.80 L427.82,691.35 L428.53,691.90 L429.24,692.44 L429.97,692.98 L430.69,693.51 L431.42,694.04 L432.16,694.56 L432.90,695.07 L433.64,695.58 L434.39,696.09 L435.13,696.60 L435.87,697.10 L436.62,697.60 L437.37,698.09 L438.11,698.58 L438.86,699.07 L439.61,699.55 L440.35,700.03 L441.10,700.50 L441.86,700.97 L442.61,701.43 L443.36,701.89 L444.12,702.34 L444.87,702.79 L445.63,703.23 L446.39,703.66 L447.15,704.09 L447.92,704.51 L448.69,704.92 L449.45,705.33 L450.23,705.73 L451.00,706.12 L451.78,706.50 L452.56,706.87 L453.34,707.24 L454.13,707.60 L454.91,707.94 L455.71,708.28 L456.50,708.61 L457.30,708.93 L458.10,709.24 L458.91,709.54 L459.72,709.82 L460.53,710.10 L461.35,710.37 L462.18,710.62 L463.00,710.87 L463.83,711.10 L464.67,711.32 L465.51,711.53 L466.36,711.72 L467.21,711.91 L468.06,712.08 L468.92,712.24 L469.79,712.38 L470.65,712.52 L471.53,712.64 L472.40,712.76 L473.28,712.86 L474.17,712.96 L475.05,713.04 L475.94,713.12 L476.83,713.19 L477.72,713.25 L478.62,713.31 L479.52,713.36 L480.41,713.40 L481.31,713.44 L482.21,713.47 L483.11,713.50 L484.01,713.53 L484.91,713.55 L485.81,713.57 L486.71,713.58 L487.61,713.60 L488.51,713.61 L489.41,713.62 L490.31,713.63 L491.20,713.65 L492.09,713.66 L492.98,713.67 L493.87,713.68 L494.75,713.70 L495.63,713.72 L496.51,713.74 L497.39,713.76 L498.26,713.79 L499.12,713.83 L499.99,713.87 L500.84,713.91 L501.70,713.96 L502.55,714.01 L503.39,714.08 L504.22,714.15 L505.06,714.23 L505.88,714.31" stroke="#000" stroke-width="2.6"/>
</g>
<g font-family="Liberation Sans, Arial, Helvetica, sans-serif" font-size="17" fill="#000">
<text x="88.40" y="736.6" font-size="17.6" text-anchor="middle">775</text>
<text x="157.98" y="736.6" font-size="17.6" text-anchor="middle">800</text>
<text x="227.57" y="736.6" font-size="17.6" text-anchor="middle">825</text>
<text x="297.15" y="736.6" font-size="17.6" text-anchor="middle">850</text>
<text x="366.73" y="736.6" font-size="17.6" text-anchor="middle">875</text>
<text x="436.32" y="736.6" font-size="17.6" text-anchor="middle">900</text>
<text x="505.90" y="736.6" font-size="17.6" text-anchor="middle">925</text>
<text x="80.6" y="664.77" font-size="17.4" text-anchor="end">10000</text>
<text x="80.6" y="608.93" font-size="17.4" text-anchor="end">20000</text>
<text x="80.6" y="553.10" font-size="17.4" text-anchor="end">30000</text>
<text x="80.6" y="497.27" font-size="17.4" text-anchor="end">40000</text>
<text x="80.6" y="441.43" font-size="17.4" text-anchor="end">50000</text>
<text x="80.6" y="385.60" font-size="17.4" text-anchor="end">60000</text>
<text x="297.2" y="764.8" font-size="17.6" text-anchor="middle">Wavelength (nm)</text>
<text transform="translate(23.4,539.1) rotate(-90)" font-size="17.6" text-anchor="middle">PL Intensity (a.u.)</text>
<text x="149.2" y="406.6" font-size="17.3">GaAs wafer</text>
<text x="149.2" y="428.7" font-size="17.3">TDD= 7.2x10<tspan font-size="16" dy="-7.4">6</tspan><tspan dy="7.4"> cm</tspan><tspan font-size="16" dy="-7.4">-2</tspan></text>
<text x="149.2" y="457.7" font-size="17.3">TDD= 4.8x10<tspan font-size="16" dy="-7.4">7</tspan><tspan dy="7.4"> cm</tspan><tspan font-size="16" dy="-7.4">-2</tspan></text>
<text x="149.2" y="486.9" font-size="17.3">TDD= 2.8x10<tspan font-size="16" dy="-7.4">8</tspan><tspan dy="7.4"> cm</tspan><tspan font-size="16" dy="-7.4">-2</tspan></text>
</g>
<path d="M99.6,401.3h10M122.8,401.3h10" stroke="#575757" stroke-width="2.5"/>
<path d="M99.6,422.6h39" stroke="#000" stroke-width="2.6"/>
<path d="M99.6,452.1h39" stroke="#cc0c18" stroke-width="2.6"/>
<path d="M99.6,481.5h39" stroke="#0000c8" stroke-width="2.6"/>
</svg>
</body></html>
